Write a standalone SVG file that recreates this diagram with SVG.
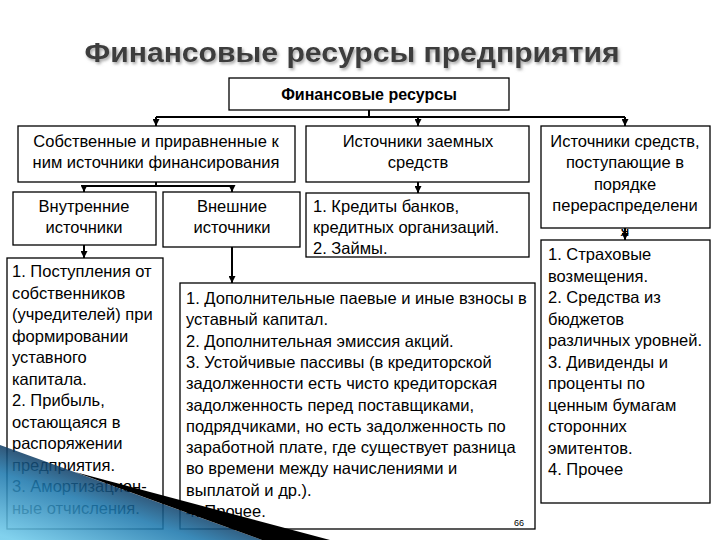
<svg xmlns="http://www.w3.org/2000/svg" width="720" height="540" viewBox="0 0 720 540">
<defs>
<style>
.box{fill:#fff;stroke:#000;stroke-width:1.3}
.t{font-family:"Liberation Sans",Arial,sans-serif;font-size:16.5px;fill:#000}
.c{text-anchor:middle}
.con{fill:none;stroke:#000;stroke-width:2}
</style>
<marker id="ah" markerUnits="userSpaceOnUse" markerWidth="7" markerHeight="7" refX="7" refY="3.5" orient="auto">
<path d="M0,0 L7,3.5 L0,7 z" fill="#000"/>
</marker>
<filter id="sh" x="-5%" y="-30%" width="110%" height="160%">
<feDropShadow dx="1.5" dy="2" stdDeviation="1.5" flood-color="#8a8a8a" flood-opacity="0.8"/>
</filter>
<linearGradient id="blue" gradientUnits="userSpaceOnUse" x1="125" y1="488" x2="98" y2="568">
<stop offset="0" stop-color="#123f66"/>
<stop offset="0.3" stop-color="#1d78ad"/>
<stop offset="1" stop-color="#6fcbeb"/>
</linearGradient>
<clipPath id="cl"><rect x="600" y="229" width="50" height="11"/></clipPath>
</defs>
<rect width="720" height="540" fill="#fff"/>

<text x="352" y="62" class="c" filter="url(#sh)" style="font-family:'Liberation Sans',Arial,sans-serif;font-size:28px;font-weight:bold;fill:#3c3c3c" textLength="535" lengthAdjust="spacingAndGlyphs">Финансовые ресурсы предприятия</text>

<g id="connectors">
<path class="con" d="M369,110 V117 M156,117 H625"/>
<path class="con" d="M156,117 V126" marker-end="url(#ah)"/>
<path class="con" d="M418,117 V126" marker-end="url(#ah)"/>
<path class="con" d="M625,117 V126" marker-end="url(#ah)"/>
<path class="con" d="M156,182 V186 M84,186 H232"/>
<path class="con" d="M84,186 V192" marker-end="url(#ah)"/>
<path class="con" d="M232,186 V192" marker-end="url(#ah)"/>
<path class="con" d="M84,245 V258" marker-end="url(#ah)"/>
<path class="con" d="M232,247 V283" marker-end="url(#ah)"/>
<path class="con" d="M418,182 V193" marker-end="url(#ah)"/>
<path class="con" d="M625,228 V240" marker-end="url(#ah)"/>
</g>

<g id="root">
<rect class="box" x="229" y="78" width="280" height="32"/>
<text class="t c" x="369" y="100" style="font-weight:bold;font-size:16px">Финансовые ресурсы</text>
</g>

<g id="own">
<rect class="box" x="18" y="126" width="277" height="56"/>
<text class="t c" x="156" y="147">Собственные и приравненные к</text>
<text class="t c" x="156" y="168">ним источники финансирования</text>
</g>

<g id="borrowed">
<rect class="box" x="306" y="126" width="223" height="56"/>
<text class="t c" x="418" y="147">Источники заемных</text>
<text class="t c" x="418" y="168">средств</text>
</g>

<g id="redistributed">
<rect class="box" x="541" y="126" width="169" height="102"/>
<text class="t c" x="625" y="147">Источники средств,</text>
<text class="t c" x="625" y="168">поступающие в</text>
<text class="t c" x="625" y="189.5">порядке</text>
<text class="t c" x="625" y="211">перераспределени</text>
<text class="t c" x="625" y="236" clip-path="url(#cl)">я</text>
</g>

<g id="internal">
<rect class="box" x="13" y="192" width="143" height="53"/>
<text class="t c" x="84" y="212">Внутренние</text>
<text class="t c" x="84" y="233">источники</text>
</g>

<g id="external">
<rect class="box" x="163" y="192" width="137" height="55"/>
<text class="t c" x="232" y="212">Внешние</text>
<text class="t c" x="232" y="233">источники</text>
</g>

<g id="credits">
<rect class="box" x="306" y="193" width="223" height="64"/>
<text class="t" x="313" y="212">1. Кредиты банков,</text>
<text class="t" x="313" y="233">кредитных организаций.</text>
<text class="t" x="313" y="254">2. Займы.</text>
</g>

<g id="internal-list">
<rect class="box" x="7" y="258" width="156" height="271"/>
<text class="t" x="12" y="277">1. Поступления от</text>
<text class="t" x="12" y="298.5">собственников</text>
<text class="t" x="12" y="320">(учредителей) при</text>
<text class="t" x="12" y="341.5">формировании</text>
<text class="t" x="12" y="363">уставного</text>
<text class="t" x="12" y="384.5">капитала.</text>
<text class="t" x="12" y="406">2. Прибыль,</text>
<text class="t" x="12" y="427.5">остающаяся в</text>
<text class="t" x="12" y="449">распоряжении</text>
<text class="t" x="12" y="470.5">предприятия.</text>
<text class="t" x="12" y="492">3.  Амортизацион-</text>
<text class="t" x="12" y="513.5">ные отчисления.</text>
</g>

<g id="external-list">
<rect class="box" x="180" y="283" width="355" height="246"/>
<text class="t" x="186" y="304">1. Дополнительные паевые и иные взносы в</text>
<text class="t" x="186" y="325.3">уставный капитал.</text>
<text class="t" x="186" y="346.6">2. Дополнительная эмиссия акций.</text>
<text class="t" x="186" y="367.9">3. Устойчивые пассивы (в кредиторской</text>
<text class="t" x="186" y="389.2">задолженности есть чисто кредиторская</text>
<text class="t" x="186" y="410.5">задолженность перед поставщиками,</text>
<text class="t" x="186" y="431.8">подрядчиками, но есть задолженность по</text>
<text class="t" x="186" y="453.1">заработной плате, где существует разница</text>
<text class="t" x="186" y="474.4">во времени между начислениями и</text>
<text class="t" x="186" y="495.7">выплатой и др.).</text>
<text class="t" x="186" y="517">4. Прочее.</text>
<text x="524" y="526" text-anchor="end" style="font-family:'Liberation Sans',Arial,sans-serif;font-size:9px;fill:#000">66</text>
</g>

<g id="redistributed-list">
<rect class="box" x="541" y="240" width="169" height="263"/>
<text class="t" x="548" y="260">1. Страховые</text>
<text class="t" x="548" y="281.5">возмещения.</text>
<text class="t" x="548" y="303">2. Средства из</text>
<text class="t" x="548" y="324.5">бюджетов</text>
<text class="t" x="548" y="346">различных уровней.</text>
<text class="t" x="548" y="367.5">3. Дивиденды и</text>
<text class="t" x="548" y="389">проценты по</text>
<text class="t" x="548" y="410.5">ценным бумагам</text>
<text class="t" x="548" y="432">сторонних</text>
<text class="t" x="548" y="453.5">эмитентов.</text>
<text class="t" x="548" y="475">4. Прочее</text>
</g>

<path d="M0,445 L262,540 L0,540 Z" fill="url(#blue)" opacity="0.87"/>
<path d="M75,472 L330,540 L262,540 Z" fill="#000"/>
</svg>
